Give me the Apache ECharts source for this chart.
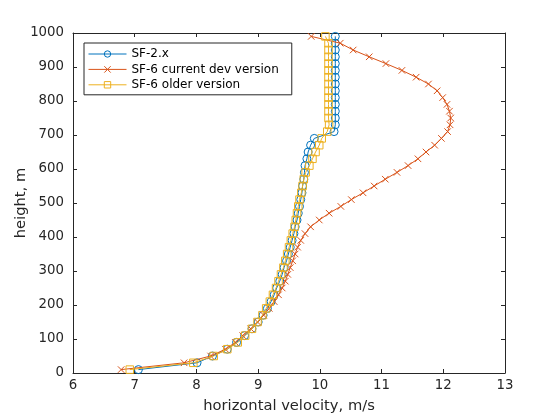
<!DOCTYPE html>
<html>
<head>
<meta charset="utf-8">
<script src="https://cdn.jsdelivr.net/npm/echarts@6/dist/echarts.min.js"></script>
<style>html,body{margin:0;padding:0;background:#fff}#c{width:560px;height:420px}</style>
</head>
<body>
<div id="c"></div>
<script>
// Heights (m), shared by all three profiles
const heights = [10,30,50,70,90,110,130,150,170,190,210,230,250,270,290,310,330,350,370,390,
  410,430,450,470,490,510,530,550,570,590,610,630,650,670,690,710,730,750,770,790,
  810,830,850,870,890,910,930,950,970,990];

// SF-2.x horizontal velocity (m/s)
const sf2 = [7.06,8.01,8.26,8.50,8.65,8.78,8.90,9.00,9.08,9.15,9.21,9.26,9.30,9.35,9.39,9.42,9.46,9.49,9.52,9.55,
  9.58,9.60,9.63,9.65,9.67,9.69,9.71,9.72,9.74,9.75,9.76,9.79,9.81,9.85,9.91,10.23,10.25,10.25,10.25,10.25,
  10.25,10.25,10.25,10.25,10.25,10.25,10.25,10.25,10.25,10.25];

// SF-6 current dev version
const sf6dev = [6.78,7.80,8.23,8.47,8.63,8.75,8.88,8.99,9.09,9.18,9.26,9.33,9.39,9.44,9.48,9.52,9.56,9.60,9.64,9.69,
  9.76,9.85,9.99,10.15,10.34,10.51,10.70,10.88,11.06,11.25,11.43,11.59,11.72,11.86,11.97,12.07,12.11,12.12,12.10,12.06,
  11.99,11.90,11.76,11.56,11.33,11.07,10.80,10.54,10.33,9.86];

// SF-6 older version
const sf6old = [6.92,7.95,8.28,8.50,8.67,8.79,8.90,8.99,9.07,9.13,9.19,9.24,9.29,9.33,9.37,9.41,9.44,9.47,9.50,9.53,
  9.56,9.59,9.61,9.63,9.65,9.67,9.70,9.72,9.74,9.77,9.83,9.88,9.93,9.99,10.03,10.12,10.15,10.14,10.14,10.14,
  10.14,10.14,10.14,10.14,10.14,10.14,10.14,10.14,10.14,10.09];

const xTicks = [6,7,8,9,10,11,12,13];
const names = ['SF-2.x','SF-6 current dev version','SF-6 older version'];
const colors = ['#0072BD','#D95319','#EDB120'];

const font = 'DejaVu Sans';
const axisCol = '#262626';

function pts(vals){ return vals.map((v,i)=>[v, heights[i]]); }

const chart = echarts.init(document.getElementById('c'), null, {renderer:'canvas'});

const baseX = {
  type:'value', min:xTicks[0], max:xTicks[xTicks.length-1], interval:1,
  axisLine:{show:true, onZero:false, lineStyle:{color:axisCol, width:1}},
  axisTick:{show:true, inside:true, length:4, lineStyle:{color:axisCol}},
  splitLine:{show:false}
};
const baseY = {
  type:'value', min:0, max:1000, interval:100,
  axisLine:{show:true, onZero:false, lineStyle:{color:axisCol, width:1}},
  axisTick:{show:true, inside:true, length:4, lineStyle:{color:axisCol}},
  splitLine:{show:false}
};

const symbols = ['circle', 'path://M0,0L10,10M10,0L0,10', 'rect'];
const sizes = [8, 6.5, 7.5];
const datas = [sf2, sf6dev, sf6old];

chart.setOption({
  animation:false,
  backgroundColor:'#fff',
  grid:{left:73, right:55, top:33, bottom:47, outerBoundsMode:'none', containLabel:false},
  legend:{
    show:true, orient:'vertical', left:84, top:43,
    data:names,
    itemWidth:38, itemHeight:8, itemGap:3.4,
    padding:[5,13,4,4],
    borderColor:axisCol, borderWidth:1, backgroundColor:'#fff',
    lineStyle:{width:1},
    itemStyle:{borderWidth:1},
    textStyle:{fontFamily:font, fontSize:12, color:'#000'}
  },
  xAxis:[
    Object.assign({}, baseX, {
      position:'bottom',
      name:'horizontal velocity, m/s', nameLocation:'middle', nameGap:26, nameMoveOverlap:false,
      nameTextStyle:{fontFamily:font, fontSize:14.7, color:axisCol},
      axisLabel:{show:true, fontFamily:font, fontSize:13.3, color:axisCol, margin:6}
    }),
    Object.assign({}, baseX, {position:'top', axisLabel:{show:false}})
  ],
  yAxis:[
    Object.assign({}, baseY, {
      position:'left',
      name:'height, m', nameLocation:'middle', nameGap:44, nameRotate:90, nameMoveOverlap:false,
      nameTextStyle:{fontFamily:font, fontSize:14.7, color:axisCol},
      axisLabel:{show:true, fontFamily:font, fontSize:13.3, color:axisCol, margin:9,
        formatter:(v)=>String(v)}
    }),
    Object.assign({}, baseY, {position:'right', axisLabel:{show:false}})
  ],
  series: names.map((n,i)=>({
    name:n, type:'line', xAxisIndex:0, yAxisIndex:0,
    data:pts(datas[i]),
    symbol:symbols[i], symbolSize:sizes[i], showAllSymbol:true,
    lineStyle:{color:colors[i], width:1},
    itemStyle:{color:'rgba(0,0,0,0)', borderColor:colors[i], borderWidth:1},
    emphasis:{disabled:true},
    z: 2 + i
  }))
});
</script>
</body>
</html>
